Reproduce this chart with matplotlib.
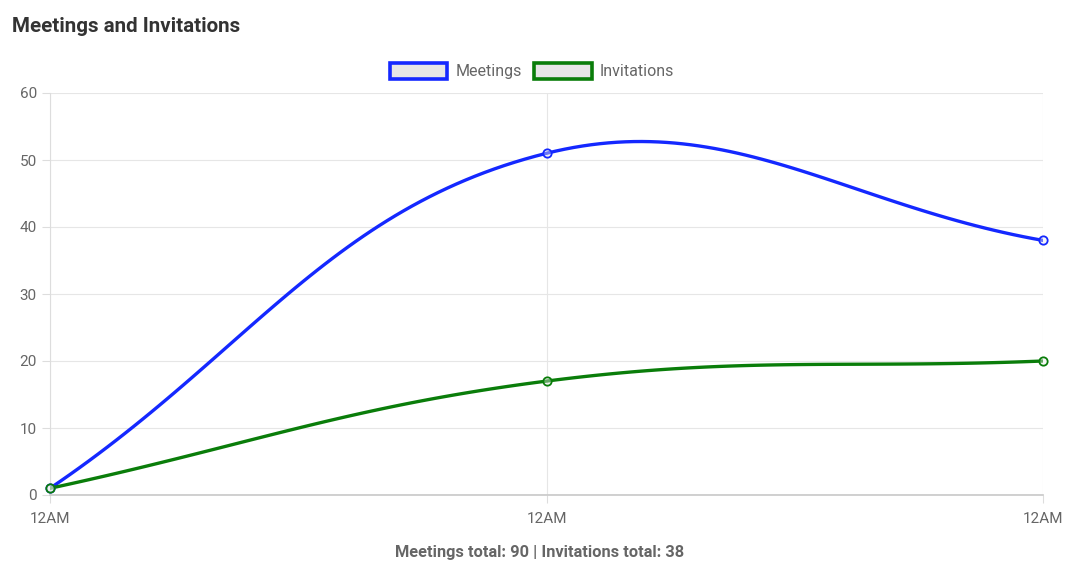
import numpy as np
import matplotlib.pyplot as plt
from matplotlib.patches import Patch

# chart data
labels = ["12AM", "12AM", "12AM"]
meetings = [1, 51, 38]
invitations = [1, 17, 20]
series_names = ["Meetings", "Invitations"]
series_colors = ["#1428ff", "#0a7d0a"]
footer = "Meetings total: 90 | Invitations total: 38"

plt.rcParams['font.family'] = ['Roboto', 'DejaVu Sans']


def spline_pixels(xs, ys, tension=0.4, steps=60):
    # chart.js style cubic interpolation, done in pixel space
    pts = np.column_stack([xs, ys]).astype(float)
    n = len(pts)
    cp_prev, cp_next = [], []
    for i in range(n):
        cur = pts[i]
        prev = pts[i - 1] if i > 0 else cur
        nxt = pts[i + 1] if i < n - 1 else cur
        d01 = np.hypot(*(cur - prev))
        d12 = np.hypot(*(nxt - cur))
        tot = d01 + d12
        s01 = d01 / tot if tot else 0
        s12 = d12 / tot if tot else 0
        cp_prev.append(cur - tension * s01 * (nxt - prev))
        cp_next.append(cur + tension * s12 * (nxt - prev))
    out = []
    t = np.linspace(0, 1, steps)[:, None]
    for i in range(n - 1):
        p0, p1, p2, p3 = pts[i], cp_next[i], cp_prev[i + 1], pts[i + 1]
        seg = ((1 - t) ** 3) * p0 + 3 * ((1 - t) ** 2) * t * p1 + 3 * (1 - t) * t ** 2 * p2 + t ** 3 * p3
        out.append(seg if i == 0 else seg[1:])
    return np.vstack(out)


fig = plt.figure(figsize=(10.8, 5.87), dpi=100)
ax = fig.add_axes([50 / 1080, 92 / 587, 993 / 1080, 402 / 587])
ax.set_xlim(0, len(labels) - 1)
ax.set_ylim(0, 60)

x = np.arange(len(labels))
for vals, color in zip([meetings, invitations], series_colors):
    disp = ax.transData.transform(np.column_stack([x, vals]))
    curve = spline_pixels(disp[:, 0], disp[:, 1])
    data_curve = ax.transData.inverted().transform(curve)
    ax.plot(data_curve[:, 0], data_curve[:, 1], color=color, lw=2.4,
            solid_capstyle='round', zorder=3)
    ax.plot(x, vals, 'o', ms=6, mfc=(0.92, 0.92, 0.92, 0.4), mec=color, mew=1.3,
            clip_on=False, zorder=4)

ax.set_xticks(x)
ax.set_xticklabels(labels)
ax.set_yticks(range(0, 61, 10))
ax.grid(True, color='#e6e6e6', lw=0.8)
ax.set_axisbelow(True)
for side in ['top', 'right']:
    ax.spines[side].set_visible(False)
ax.spines['left'].set_color('#dddddd')
ax.spines['bottom'].set_color('#c8c8c8')
ax.spines['bottom'].set_linewidth(1.2)
ax.tick_params(axis='both', colors='#dddddd', labelcolor='#666666',
               labelsize=11, length=6, width=0.8)
ax.tick_params(axis='x', pad=6)

fig.text(12 / 1080, 1 - 26 / 587, "Meetings and Invitations", fontsize=14.8,
         fontweight='bold', color='#333333', va='center', ha='left')

handles = [Patch(facecolor='#e6e6e6', edgecolor=c, lw=2.6, label=n)
           for n, c in zip(series_names, series_colors)]
fig.legend(handles=handles, loc='center', bbox_to_anchor=(532 / 1080, 1 - 71 / 587),
           ncol=2, frameon=False, fontsize=11.5, labelcolor='#666666',
           handlelength=3.6, handleheight=1.2, handletextpad=0.5, columnspacing=0.8)

fig.text(540 / 1080, 1 - 553 / 587, footer, fontsize=11.8, fontweight='bold',
         color='#666666', ha='center', va='center')

fig.savefig("out.png", dpi=100)
